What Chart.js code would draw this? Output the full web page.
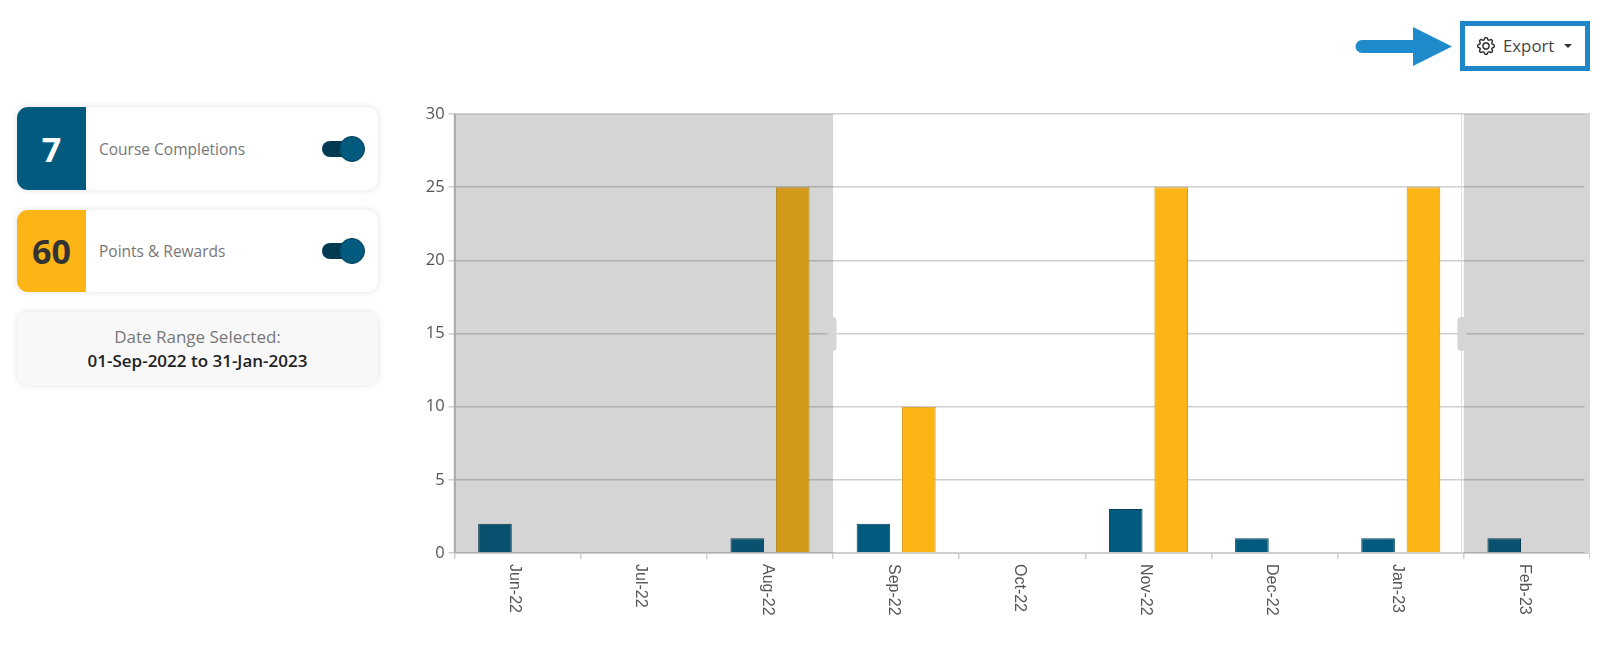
<!DOCTYPE html>
<html lang="en">
<head>
  <meta charset="UTF-8" />
  <title>Course Completions and Points</title>
  <script src="https://cdn.jsdelivr.net/npm/chart.js"></script>
  <style>
    html, body { margin: 0; padding: 0; background: #fff; }
    body { position: relative; width: 1600px; height: 661px; overflow: hidden; font-family: "Open Sans", sans-serif; }
    .card { position: absolute; left: 17px; width: 361px; background: #fff; border-radius: 11px; box-shadow: 0 0 7px rgba(0,0,0,.12); overflow: hidden; }
    .num { position: absolute; left: 0; top: 0; bottom: 0; width: 69px; display: flex; align-items: center; justify-content: center; font-size: 34px; font-weight: 700; }
    .lbl { position: absolute; left: 82px; top: 0; bottom: 0; display: flex; align-items: center; font-size: 15.5px; color: #777; }
    .track { position: absolute; left: 305px; width: 34px; height: 16px; border-radius: 8px; background: #013a52; }
    .knob { position: absolute; left: 322px; width: 24px; height: 24px; border-radius: 50%; background: #025b7f; border: 1px solid #013a52; }
    #range { top: 312px; height: 73px; background: #f8f8f8; text-align: center; }
    #range .a { margin-top: 13px; font-size: 17px; line-height: 24px; color: #777; }
    #range .b { font-size: 17px; line-height: 24px; font-weight: 600; color: #222; }
    #export { position: absolute; left: 1460px; top: 21px; width: 120px; height: 40px; border: 5px solid #1f86c8; background: #fff; }
    #export svg { position: absolute; left: 12px; top: 11px; }
    #export span { position: absolute; left: 38px; top: 8px; font-size: 16.8px; line-height: 24px; color: #444; }
    #export i { position: absolute; left: 99px; top: 18px; border: 4px solid transparent; border-top-color: #333; border-bottom: 0; }
    #arrow { position: absolute; left: 1350px; top: 20px; }
    #wrap { position: absolute; left: 410px; top: 100px; }
  </style>
</head>
<body>
  <div class="card" style="top:107px;height:83px">
    <div class="num" style="background:#025b7f;color:#fff">7</div>
    <div class="lbl">Course Completions</div>
    <div class="track" style="top:34px"></div><div class="knob" style="top:29px"></div>
  </div>
  <div class="card" style="top:210px;height:82px">
    <div class="num" style="background:#fdb515;color:#333">60</div>
    <div class="lbl">Points &amp; Rewards</div>
    <div class="track" style="top:33px"></div><div class="knob" style="top:28px"></div>
  </div>
  <div class="card" id="range">
    <div class="a">Date Range Selected:</div>
    <div class="b">01-Sep-2022 to 31-Jan-2023</div>
  </div>

  <svg id="arrow" width="105" height="50" viewBox="0 0 105 50">
    <path d="M12 20 H63 V7 L102 26.5 L63 46 V33 H12 a6.5 6.5 0 0 1 0 -13 z" fill="#1f8bcb" />
  </svg>
  <div id="export">
    <svg width="18" height="18" viewBox="0 0 16 16" fill="#222" stroke="#222" stroke-width="0.25">
      <path d="M8 4.754a3.246 3.246 0 1 0 0 6.492 3.246 3.246 0 0 0 0-6.492zM5.754 8a2.246 2.246 0 1 1 4.492 0 2.246 2.246 0 0 1-4.492 0z"/>
      <path d="M9.796 1.343c-.527-1.79-3.065-1.79-3.592 0l-.094.319a.873.873 0 0 1-1.255.52l-.292-.16c-1.64-.892-3.433.902-2.54 2.541l.159.292a.873.873 0 0 1-.52 1.255l-.319.094c-1.79.527-1.79 3.065 0 3.592l.319.094a.873.873 0 0 1 .52 1.255l-.16.292c-.892 1.64.901 3.434 2.541 2.54l.292-.159a.873.873 0 0 1 1.255.52l.094.319c.527 1.79 3.065 1.79 3.592 0l.094-.319a.873.873 0 0 1 1.255-.52l.292.16c1.64.893 3.434-.902 2.54-2.541l-.159-.292a.873.873 0 0 1 .52-1.255l.319-.094c1.79-.527 1.79-3.065 0-3.592l-.319-.094a.873.873 0 0 1-.52-1.255l.16-.292c.893-1.64-.902-3.433-2.541-2.54l-.292.159a.873.873 0 0 1-1.255-.52l-.094-.319zm-2.633.283c.246-.835 1.428-.835 1.674 0l.094.319a1.873 1.873 0 0 0 2.693 1.115l.291-.16c.764-.415 1.6.42 1.184 1.185l-.159.292a1.873 1.873 0 0 0 1.116 2.692l.318.094c.835.246.835 1.428 0 1.674l-.319.094a1.873 1.873 0 0 0-1.115 2.693l.16.291c.415.764-.42 1.6-1.185 1.184l-.291-.159a1.873 1.873 0 0 0-2.693 1.116l-.094.318c-.246.835-1.428.835-1.674 0l-.094-.319a1.873 1.873 0 0 0-2.692-1.115l-.292.16c-.764.415-1.6-.42-1.184-1.185l.159-.291A1.873 1.873 0 0 0 1.945 8.93l-.319-.094c-.835-.246-.835-1.428 0-1.674l.319-.094A1.873 1.873 0 0 0 3.06 4.377l-.16-.292c-.415-.764.42-1.6 1.185-1.184l.292.159a1.873 1.873 0 0 0 2.692-1.115l.094-.319z"/>
    </svg>
    <span>Export</span><i></i>
  </div>

  <div id="wrap"><canvas id="chart" width="1180" height="560"></canvas></div>

  <script>
    const months = ["Jun-22", "Jul-22", "Aug-22", "Sep-22", "Oct-22", "Nov-22", "Dec-22", "Jan-23", "Feb-23"];
    const courseCompletions = [2, 0, 1, 2, 0, 3, 1, 1, 1];
    const pointsRewards = [0, 0, 25, 10, 0, 25, 0, 25, 0];
    const yTicks = [0, 5, 10, 15, 20, 25, 30];
    // selected range runs from Sep-22 to Jan-23, everything else is masked
    const selectedFrom = 3;
    const selectedTo = 7;

    // grey masks and drag handles either side of the selected range
    const rangeMask = {
      id: "rangeMask",
      afterDatasetsDraw(chart) {
        const { ctx, chartArea, scales } = chart;
        const half = (scales.x.getPixelForValue(1) - scales.x.getPixelForValue(0)) / 2;
        const fromX = scales.x.getPixelForValue(selectedFrom) - half;
        const toX = scales.x.getPixelForValue(selectedTo) + half;
        const h = chartArea.bottom - chartArea.top;
        ctx.save();
        ctx.fillStyle = "rgba(40,40,40,0.195)";
        ctx.fillRect(chartArea.left - 1, chartArea.top, fromX - chartArea.left + 1, h);
        ctx.fillRect(toX, chartArea.top, chartArea.right - toX, h);
        // the mask's last few pixels hide the grid lines
        ctx.fillStyle = "#d5d5d5";
        ctx.fillRect(chartArea.right - 5.5, chartArea.top - 1, 6, h + 1);
        ctx.fillStyle = "#dcdcdc";
        ctx.fillRect(toX - 3, chartArea.top, 1, h);
        ctx.fillStyle = "#d5d5d5";
        [fromX - 1, toX - 2].forEach(x => {
          ctx.beginPath();
          ctx.roundRect(x - 4.5, chartArea.top + 203, 9, 34, 4);
          ctx.fill();
        });
        ctx.restore();
      }
    };

    // labels read top to bottom, which the category ticks cannot do on their own
    const downLabels = {
      id: "downLabels",
      afterDraw(chart) {
        const { ctx, scales } = chart;
        ctx.save();
        ctx.font = "16px 'Liberation Sans'";
        ctx.fillStyle = "#555";
        ctx.textAlign = "left";
        ctx.textBaseline = "middle";
        months.forEach((m, i) => {
          ctx.save();
          ctx.translate(scales.x.getPixelForTick(i) - 3, scales.x.bottom - scales.x.height + 11);
          ctx.rotate(Math.PI / 2);
          ctx.fillText(m, 0, 0);
          ctx.restore();
        });
        ctx.restore();
      }
    };

    new Chart(document.getElementById("chart").getContext("2d"), {
      type: "bar",
      data: {
        labels: months,
        datasets: [
          {
            label: "Course Completions",
            data: courseCompletions,
            backgroundColor: "#025b7f",
            borderColor: "#013f5a",
            borderWidth: c => (c.raw ? 1 : 0)
          },
          {
            label: "Points & Rewards",
            data: pointsRewards,
            backgroundColor: "#fdb515",
            borderColor: "#d09510",
            borderWidth: c => (c.raw ? 1 : 0)
          }
        ]
      },
      options: {
        responsive: false,
        animation: false,
        categoryPercentage: 0.72,
        barPercentage: 0.74,
        layout: { padding: { top: 14 } },
        plugins: { legend: { display: false }, tooltip: { enabled: false } },
        scales: {
          x: {
            afterFit: s => { s.height = 107; },
            grid: { offset: true, drawOnChartArea: false, color: "#cfcfcf", tickLength: 6, lineWidth: 1.5 },
            border: { color: "#d0d0d0", width: 2 },
            ticks: { display: false }
          },
          y: {
            min: 0,
            max: 30,
            afterFit: s => { s.width = 44.6; },
            afterBuildTicks: s => { s.ticks = yTicks.map(v => ({ value: v })); },
            grid: { color: "#cfcfcf", tickLength: 6, lineWidth: 1.5 },
            border: { color: "#cccccc", width: 2 },
            ticks: { color: "#555", padding: 4, font: { family: "'Open Sans'", size: 16.5 } }
          }
        }
      },
      plugins: [rangeMask, downLabels]
    });
  </script>
</body>
</html>
